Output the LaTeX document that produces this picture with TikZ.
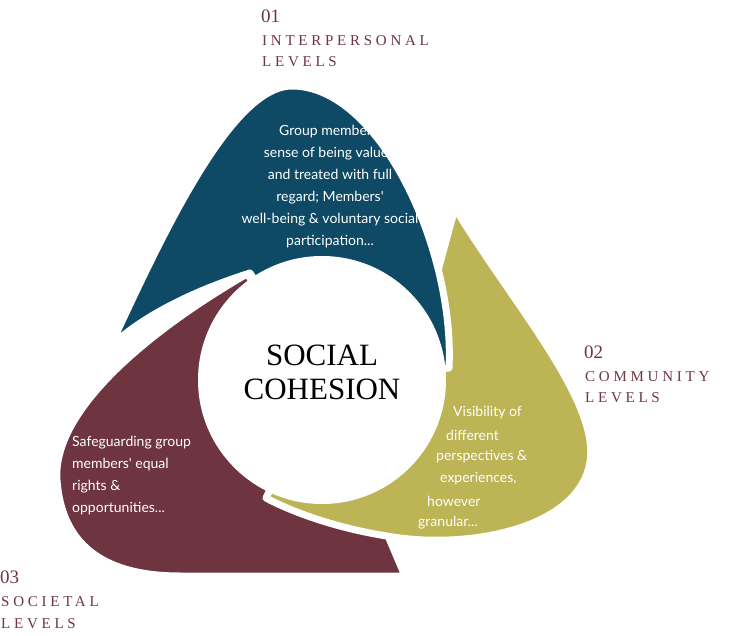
\documentclass[tikz,border=0pt]{standalone}
\usepackage{fontspec}
\setmainfont{Liberation Serif}
\newfontfamily\bodyf{Lato}
\newfontfamily\spacedf[LetterSpace=25]{Liberation Serif}
\definecolor{cblue}{HTML}{0E4A66}
\definecolor{colive}{HTML}{BDB456}
\definecolor{cmaroon}{HTML}{6E3541}
\begin{document}
\begin{tikzpicture}[x=1pt,y=-1pt,
  blade/.style={draw=white,line width=7pt,line join=round},
  body/.style={text=white,font=\bodyf\fontsize{14}{22}\selectfont,inner sep=0pt},
  lab/.style={text=cmaroon,font=\spacedf\fontsize{15}{22}\selectfont,anchor=west,inner sep=0pt},
  num/.style={text=cmaroon,font=\fontsize{19}{22}\selectfont,anchor=west,inner sep=0pt}]
\useasboundingbox (0,0) rectangle (750,636);
% maroon
\fill[cmaroon,blade] (247,274) .. controls (150,330) and (52,410) .. (57,480)
  .. controls (62,550) and (110,576) .. (180,576) -- (405,576) -- (322,380) -- cycle;
% olive
\fill[colive,blade] (455,208) .. controls (510,300) and (600,400) .. (590,462)
  .. controls (580,525) and (480,548) .. (400,538) .. controls (340,530) and (292,512) .. (266,498)
  -- (322,380) -- (430,300) -- cycle;
% blue
\fill[cblue,blade] (110,347) .. controls (160,240) and (230,86) .. (292,86)
  .. controls (380,86) and (455,250) .. (449,368) -- (322,380) -- (250,273)
  .. controls (190,292) and (140,318) .. (110,347) -- cycle;
\fill[white] (322,380) circle (124);
\node[align=center,font=\fontsize{31}{34}\selectfont,inner sep=0pt] (title) at (322,372) {SOCIAL\\COHESION};
\node[body,align=center] (bt) at (330,187) {Group members'\\sense of being valued\\and treated with full\\regard; Members'\\well-being \& voluntary social\\participation...};
\node[body,anchor=west] (o1) at (453,413) {Visibility of};
\node[body,anchor=west] (o2) at (446,435) {different};
\node[body,anchor=west] (o3) at (436,457) {perspectives \&};
\node[body,anchor=west] (o4) at (440,479) {experiences,};
\node[body,anchor=west] (o5) at (427,501) {however};
\node[body,anchor=west] (o6) at (418,523) {granular...};
\node[body,align=left,anchor=north west] (mt) at (72,436) {Safeguarding group\\members' equal\\rights \&\\opportunities...};
\node[num] (n1) at (261,16) {01};
\node[lab] (l1a) at (262,41) {INTERPERSONAL};
\node[lab] (l1b) at (262,62) {LEVELS};
\node[num] (n2) at (584,352) {02};
\node[lab] (l2a) at (585,377) {COMMUNITY};
\node[lab] (l2b) at (585,398) {LEVELS};
\node[num] (n3) at (0,577) {03};
\node[lab] (l3a) at (1,602) {SOCIETAL};
\node[lab] (l3b) at (1,624) {LEVELS};
\end{tikzpicture}
\end{document}
